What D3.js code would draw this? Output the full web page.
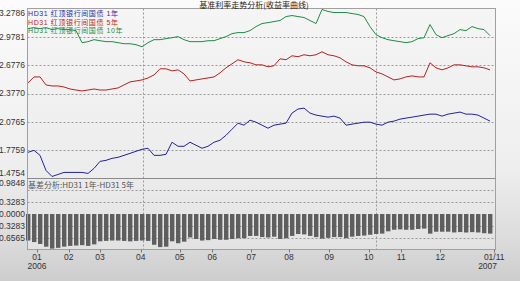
<!DOCTYPE html>
<html><head><meta charset="utf-8">
<script src="https://cdn.jsdelivr.net/npm/d3@7/dist/d3.min.js"></script>
<style>html,body{margin:0;padding:0;background:#fff;}svg{display:block;}</style>
</head><body>
<script>
// ---- data ----
const title = "基准利率走势分析(收益率曲线)";
const spreadTitle = "基差分析:HD31 1年-HD31 5年";
const seriesNames = ["HD31 红顶银行间国债 1年", "HD31 红顶银行间国债 5年", "HD31 红顶银行间国债 10年"];
const yield1Y = [1.753,1.774,1.721,1.561,1.497,1.518,1.540,1.540,1.540,1.540,
 1.529,1.582,1.657,1.668,1.689,1.700,1.721,1.742,1.764,1.785,
 1.796,1.721,1.721,1.732,1.860,1.817,1.817,1.860,1.828,1.796,
 1.817,1.860,1.881,1.934,1.998,2.062,2.041,2.094,2.073,2.041,
 2.009,2.041,2.052,2.062,2.169,2.212,2.222,2.169,2.148,2.137,
 2.126,2.137,2.116,2.041,2.052,2.062,2.073,2.073,2.052,2.041,
 2.073,2.084,2.105,2.116,2.126,2.137,2.148,2.158,2.158,2.137,
 2.158,2.169,2.180,2.158,2.158,2.148,2.116,2.084];
const yield5Y = [2.489,2.553,2.553,2.468,2.457,2.457,2.446,2.425,2.414,2.404,
 2.414,2.425,2.414,2.414,2.425,2.436,2.468,2.500,2.510,2.521,
 2.542,2.574,2.639,2.639,2.617,2.628,2.585,2.510,2.521,2.532,
 2.542,2.553,2.596,2.649,2.692,2.735,2.713,2.703,2.681,2.681,
 2.660,2.671,2.745,2.735,2.777,2.767,2.788,2.777,2.788,2.820,
 2.788,2.777,2.756,2.713,2.681,2.671,2.671,2.649,2.606,2.585,
 2.553,2.521,2.532,2.553,2.564,2.553,2.553,2.703,2.649,2.628,
 2.649,2.681,2.681,2.671,2.660,2.660,2.649,2.628];
const yield10Y = [3.065,3.076,3.065,3.076,3.055,3.065,3.055,3.055,3.044,2.916,
 2.927,2.948,2.937,2.927,2.927,2.916,2.905,2.905,2.895,2.873,
 2.916,2.948,2.948,2.959,2.969,2.980,2.948,2.927,2.927,2.927,
 2.937,2.937,2.959,2.980,3.012,3.023,3.023,3.044,3.087,3.119,
 3.129,3.140,3.151,3.193,3.204,3.193,3.183,3.151,3.119,3.268,
 3.247,3.236,3.236,3.236,3.225,3.215,3.193,3.087,3.001,2.969,
 2.948,2.937,2.927,2.916,2.927,2.959,2.969,3.108,3.001,2.969,
 2.991,3.012,3.055,3.044,3.087,3.065,3.055,2.991];
const mainTicks = [3.2786, 2.9781, 2.6776, 2.3770, 2.0765, 1.7759, 1.4754];
const spreadTicks = [0.9848, 0.6565, 0.3283, 0.0000, -0.3283, -0.6565, -0.9848];
const spreadTickLabels = ["0.9848", "", "0.3283", "0.0000", "0.3283", "0.6565", ""];
const monthLabels = ["01","02","03","04","05","06","07","08","09","10","11","12","01/11"];
const monthPos = [1.5, 6.8, 12, 18.8, 25.3, 30.7, 37.2, 43.5, 50.2, 56.8, 62.2, 68.7, 77.7];
const yearLabels = ["2006", "2007"];
const yearPos = [1.5, 76.6];
const vGridPos = [19.2, 58];

// ---- layout ----
const W = 520, H = 281;
const L = 27.5, R = 495.5, T = 8.5, MB = 178.5, SB = 249.5;
const colors = ["#23239a", "#b42222", "#1e8c46"];
const textColors = ["#2a2aa8", "#c02626", "#2a8a4a"];

const svg = d3.select("body").append("svg").attr("width", W).attr("height", H)
  .style("font-family", "'Liberation Sans', 'Noto Sans CJK SC', sans-serif");
const defs = svg.append("defs");
const bg = defs.append("linearGradient").attr("id","bg").attr("x1",0).attr("y1",0).attr("x2",0).attr("y2",1);
bg.append("stop").attr("offset","0").attr("stop-color","#fbfbfb");
bg.append("stop").attr("offset","0.6").attr("stop-color","#eeeeee");
bg.append("stop").attr("offset","0.85").attr("stop-color","#dcdcdc");
bg.append("stop").attr("offset","1").attr("stop-color","#cdcdcd");
const pg = defs.append("linearGradient").attr("id","pg").attr("x1",0).attr("y1",0).attr("x2",0).attr("y2",1);
pg.append("stop").attr("offset","0").attr("stop-color","#f5f5f5");
pg.append("stop").attr("offset","1").attr("stop-color","#ececec");
const sg = defs.append("linearGradient").attr("id","sg").attr("x1",0).attr("y1",0).attr("x2",0).attr("y2",1);
sg.append("stop").attr("offset","0").attr("stop-color","#ebebeb");
sg.append("stop").attr("offset","1").attr("stop-color","#e2e2e2");

svg.append("rect").attr("width", W).attr("height", H).attr("fill", "url(#bg)");
svg.append("rect").attr("x", L).attr("y", T).attr("width", R-L).attr("height", MB-T).attr("fill", "url(#pg)");
svg.append("rect").attr("x", L).attr("y", MB).attr("width", R-L).attr("height", SB-MB).attr("fill", "url(#sg)");

const N = yield1Y.length;
const x = d3.scaleLinear().domain([0, N-1]).range([28, 490]);
const y = d3.scaleLinear().domain([1.4754, 3.2786]).range([MB, T]);
const ys = d3.scaleLinear().domain([-0.9848, 0.9848]).range([SB, MB]);

// grid
const gridColor = "#9a9a9a";
svg.append("g").selectAll("line").data(mainTicks.slice(1, -1)).join("line")
  .attr("x1", L).attr("x2", R).attr("y1", d => Math.round(y(d)) + 0.5).attr("y2", d => Math.round(y(d)) + 0.5)
  .attr("stroke", gridColor).attr("stroke-dasharray", "2,2");
svg.append("g").selectAll("line").data([0.6565, 0.3283, -0.3283, -0.6565]).join("line")
  .attr("x1", L).attr("x2", R).attr("y1", d => Math.round(ys(d)) + 0.5).attr("y2", d => Math.round(ys(d)) + 0.5)
  .attr("stroke", gridColor).attr("stroke-dasharray", "2,2");
svg.append("g").selectAll("line").data(vGridPos).join("line")
  .attr("x1", d => Math.round(x(d)) + 0.5).attr("x2", d => Math.round(x(d)) + 0.5)
  .attr("y1", T).attr("y2", SB)
  .attr("stroke", gridColor).attr("stroke-dasharray", "2,2");

// spread bars (1Y minus 5Y)
const spread = yield1Y.map((v, i) => v - yield5Y[i]);
const bw = (x(1) - x(0));
svg.append("g").selectAll("rect").data(spread).join("rect")
  .attr("x", (d, i) => x(i) - bw/2 + 1)
  .attr("width", bw - 1.6)
  .attr("y", ys(0))
  .attr("height", d => ys(d) - ys(0))
  .attr("fill", "#5e5e5e");

// lines
const line = d3.line().x((d, i) => x(i)).y(d => y(d));
[yield1Y, yield5Y, yield10Y].forEach((s, k) => {
  svg.append("path").datum(s).attr("d", line).attr("fill", "none")
    .attr("stroke", colors[k]).attr("stroke-width", 1).attr("stroke-linejoin", "round");
});

// frames
svg.append("rect").attr("x", L).attr("y", T).attr("width", R-L).attr("height", SB-T)
  .attr("fill", "none").attr("stroke", "#a0a0a0");
svg.append("line").attr("x1", L).attr("x2", R).attr("y1", MB).attr("y2", MB).attr("stroke", "#8a8a8a");

// y labels main
const axisText = "#333";
svg.append("g").selectAll("text").data(mainTicks).join("text")
  .attr("x", 25).attr("y", (d, i) => i === 0 ? 13 : (i === mainTicks.length-1 ? 173 : y(d)))
  .attr("dy", "0.35em").attr("text-anchor", "end")
  .attr("font-size", 8.5).attr("fill", axisText).text(d => d.toFixed(4));
// y labels spread
svg.append("g").selectAll("text").data(spreadTicks).join("text")
  .attr("x", 25).attr("y", (d, i) => i === 0 ? 183 : ys(d))
  .attr("dy", "0.35em").attr("text-anchor", "end")
  .attr("font-size", 8.5).attr("fill", axisText).text((d, i) => spreadTickLabels[i]);

// x ticks
svg.append("g").selectAll("line").data(monthPos).join("line")
  .attr("x1", d => Math.round(x(d)) + 0.5).attr("x2", d => Math.round(x(d)) + 0.5)
  .attr("y1", SB).attr("y2", SB + 3).attr("stroke", "#777");
svg.append("g").selectAll("text").data(monthLabels).join("text")
  .attr("x", (d, i) => x(monthPos[i])).attr("y", 260)
  .attr("text-anchor", "middle").attr("font-size", 8.5).attr("fill", axisText).text(d => d);
svg.append("g").selectAll("text").data(yearLabels).join("text")
  .attr("x", (d, i) => x(yearPos[i])).attr("y", 268.5)
  .attr("text-anchor", "middle").attr("font-size", 8.5).attr("fill", axisText).text(d => d);

// title
svg.append("text").attr("x", 254).attr("y", 8).attr("text-anchor", "middle")
  .attr("font-size", 8).attr("fill", "#222")
  .style("font-family", "'Noto Sans CJK SC', sans-serif").text(title);

// legend
svg.append("g").selectAll("text").data(seriesNames).join("text")
  .attr("x", 28).attr("y", (d, i) => 16.4 + i * 8.1)
  .attr("font-size", 7).attr("letter-spacing", 0.6).attr("fill", (d, i) => textColors[i])
  .style("font-family", "'Liberation Sans', 'Noto Sans CJK SC', sans-serif").text(d => d);

// spread title
svg.append("text").attr("x", 28).attr("y", 187.5).attr("font-size", 8).attr("fill", "#555")
  .style("font-family", "'Noto Sans CJK SC', sans-serif").text(spreadTitle);
</script>
</body></html>
